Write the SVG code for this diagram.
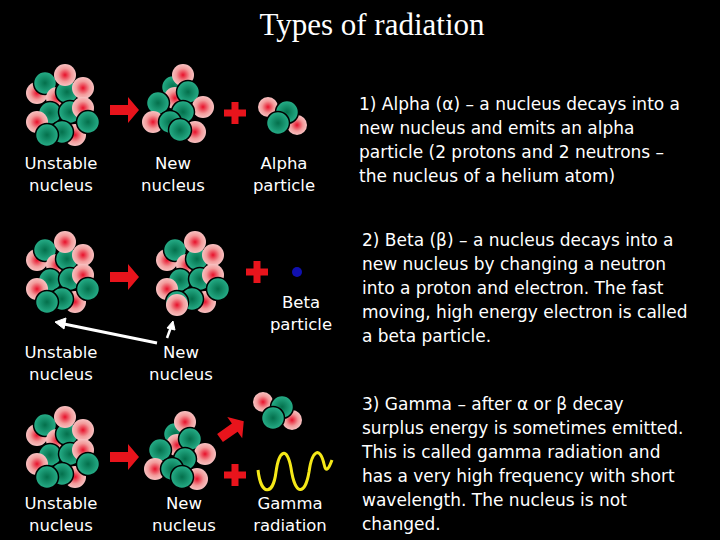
<svg xmlns="http://www.w3.org/2000/svg" width="720" height="540" viewBox="0 0 720 540">
<style>
.l{font-family:"DejaVu Sans",sans-serif;font-size:16.5px;fill:#fff;text-anchor:middle}
.t{font-family:"DejaVu Sans",sans-serif;font-size:17px;fill:#fff}
.p{fill:url(#gp)}
.g{fill:url(#gg);stroke:#000;stroke-width:1.5}
.ra{fill:#e8141c}
</style>
<defs>
<radialGradient id="gp"><stop offset="0" stop-color="#e8102a"/><stop offset="0.6" stop-color="#f29a9a"/><stop offset="1" stop-color="#f8c2c2"/></radialGradient>
<radialGradient id="gg"><stop offset="0" stop-color="#04704c"/><stop offset="1" stop-color="#27b08a"/></radialGradient>
<symbol id="un" overflow="visible">
<circle class="p" cx="-23" cy="-12" r="11"/><circle class="g" cx="-15" cy="-22" r="11.5"/>
<circle class="p" cx="-3" cy="-7" r="11"/><circle class="g" cx="7" cy="-13" r="11.5"/>
<circle class="p" cx="5" cy="-30" r="11"/><circle class="p" cx="23" cy="-17" r="11"/>
<circle class="p" cx="15" cy="30" r="11"/><circle class="g" cx="-10" cy="8" r="11.5"/>
<circle class="g" cx="10" cy="7" r="11.5"/><circle class="p" cx="23" cy="3" r="11"/>
<circle class="g" cx="28" cy="17" r="11.5"/><circle class="p" cx="-23" cy="17" r="11"/>
<circle class="g" cx="2" cy="27" r="11.5"/><circle class="g" cx="-13" cy="30" r="11.5"/>
</symbol>
<symbol id="nw" overflow="visible">
<circle class="g" cx="-10" cy="-18" r="11.5"/><circle class="p" cx="0" cy="-30" r="11"/>
<circle class="p" cx="-8" cy="-7" r="11"/><circle class="g" cx="5" cy="-13" r="11.5"/>
<circle class="g" cx="-25" cy="-2" r="11.5"/><circle class="p" cx="20" cy="2" r="11"/>
<circle class="p" cx="12" cy="27" r="11"/><circle class="g" cx="0" cy="7" r="11.5"/>
<circle class="p" cx="-30" cy="17" r="11"/><circle class="g" cx="-13" cy="17" r="11.5"/>
<circle class="g" cx="-3" cy="25" r="11.5"/>
</symbol>
<symbol id="al" overflow="visible">
<circle class="p" cx="-10" cy="-8" r="10"/><circle class="p" cx="19" cy="10" r="10"/>
<circle class="g" cx="9" cy="-3" r="11.5"/><circle class="g" cx="0" cy="8" r="11.5"/>
</symbol>
<path id="ar" class="ra" d="M0,-5 H18 V-13 L29,0 L18,13 V5 H0 Z"/>
<path id="pl" class="ra" d="M-3.5,-11 H3.5 V-3.5 H11 V3.5 H3.5 V11 H-3.5 V3.5 H-11 V-3.5 H-3.5 Z"/>
</defs>
<rect width="720" height="540" fill="#000"/>
<text x="372" y="35" font-family="Liberation Serif,serif" font-size="31" fill="#fff" text-anchor="middle">Types of radiation</text>
<g id="row1">
<use href="#un" x="60" y="105"/><use href="#nw" x="183" y="105"/><use href="#al" x="278" y="115"/>
<use href="#ar" x="110" y="110"/><use href="#pl" x="235" y="113"/>
<text class="l" x="61" y="169">Unstable</text><text class="l" x="61" y="191">nucleus</text>
<text class="l" x="173" y="169">New</text><text class="l" x="173" y="191">nucleus</text>
<text class="l" x="284" y="169">Alpha</text><text class="l" x="284" y="191">particle</text>
</g>
<g id="row2">
<use href="#un" x="60" y="272"/><use href="#un" x="190" y="272"/>
<circle class="p" cx="177" cy="305" r="11"/>
<use href="#ar" x="110" y="277"/><use href="#pl" x="257" y="272"/>
<circle cx="297" cy="272" r="5" fill="#1010b0"/>
<text class="l" x="301" y="308">Beta</text><text class="l" x="301" y="330">particle</text>
<text class="l" x="61" y="358">Unstable</text><text class="l" x="61" y="380">nucleus</text>
<text class="l" x="181" y="358">New</text><text class="l" x="181" y="380">nucleus</text>
</g>
<g id="connectors" fill="#fff" stroke="#fff">
<line x1="157" y1="343" x2="64" y2="324" stroke-width="3"/>
<path d="M55,322 L66,318 L64,329 Z" stroke-width="1"/>
<line x1="167" y1="338" x2="171" y2="327" stroke-width="2.5"/>
<path d="M173,321 L175,330 L167,328 Z" stroke-width="1"/>
</g>
<g id="row3">
<use href="#un" x="60" y="447"/><use href="#nw" x="185" y="452"/><use href="#al" x="273" y="410"/>
<use href="#ar" x="110" y="457"/><use href="#ar" transform="translate(220,438) rotate(-35)"/>
<use href="#pl" x="235" y="475"/>
<path d="M258,470 C261,496 273,496 276,472 C279,450 287,446 291,468 C295,496 305,496 309,472 C312,450 320,446 324,464 C326,474 329,468 332,460" fill="none" stroke="#f5e818" stroke-width="3"/>
<text class="l" x="61" y="509">Unstable</text><text class="l" x="61" y="531">nucleus</text>
<text class="l" x="184" y="509">New</text><text class="l" x="184" y="531">nucleus</text>
<text class="l" x="290" y="509">Gamma</text><text class="l" x="290" y="531">radiation</text>
</g>
<g id="text">
<text class="t" x="359" y="110">1)  Alpha (α) – a nucleus decays into a</text>
<text class="t" x="359" y="134">new nucleus and emits an alpha</text>
<text class="t" x="359" y="158">particle (2 protons and 2 neutrons –</text>
<text class="t" x="359" y="182">the nucleus of a helium atom)</text>
<text class="t" x="362" y="246">2)  Beta (β) – a nucleus decays into a</text>
<text class="t" x="362" y="270">new nucleus by changing a neutron</text>
<text class="t" x="362" y="294">into a proton and electron.  The fast</text>
<text class="t" x="362" y="318">moving, high energy electron is called</text>
<text class="t" x="362" y="342">a beta particle.</text>
<text class="t" x="362" y="410">3)  Gamma – after α or β decay</text>
<text class="t" x="362" y="434">surplus energy is sometimes emitted.</text>
<text class="t" x="362" y="458">This is called gamma radiation and</text>
<text class="t" x="362" y="482">has a very high frequency with short</text>
<text class="t" x="362" y="506">wavelength.  The nucleus is not</text>
<text class="t" x="362" y="530">changed.</text>
</g>
</svg>
